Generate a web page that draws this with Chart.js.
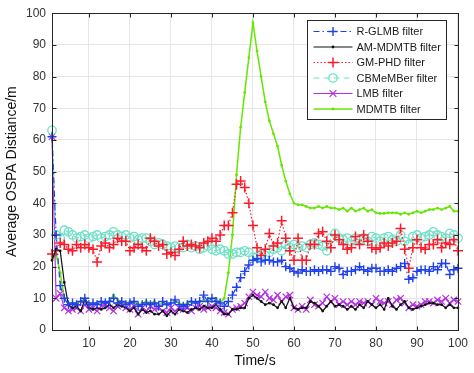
<!DOCTYPE html>
<html>
<head>
<meta charset="utf-8">
<script src="https://cdn.jsdelivr.net/npm/chart.js@4.4.1/dist/chart.umd.min.js"></script>
<style>
  html, body { margin: 0; padding: 0; background: #fff; }
  #wrap { width: 474px; height: 373px; }
</style>
</head>
<body>
<div id="wrap"><canvas id="ospaChart" width="474" height="373"></canvas></div>
<script>
// Datos (t = 1..100 s)
const times = Array.from({ length: 100 }, (_, i) => i + 1);
const xTickLabels = [10, 20, 30, 40, 50, 60, 70, 80, 90, 100];
const yTickLabels = [0, 10, 20, 30, 40, 50, 60, 70, 80, 90, 100];

const rglmb = [61, 30, 14, 10, 8, 8.5, 8, 9, 10, 8, 8.5, 8, 9, 8.5, 9, 10, 8.5, 9, 8, 8.5,
    9, 7.5, 8, 8.5, 8, 8.5, 7.5, 9, 8, 8.5, 9.5, 8, 7.5, 8, 9, 8.5, 9, 11, 9, 10,
    9, 8.5, 7.5, 9, 11, 13.5, 16.5, 18.5, 20.5, 22, 22.5, 21.5, 22, 22, 21.5, 21.5, 22, 20, 19.5, 18.5,
    18, 19, 18.5, 18.5, 19, 18.5, 19, 19, 18.5, 20, 19.5, 17.5, 18.5, 18.5, 19, 20, 19, 18.5, 19.5, 19.5,
    18.5, 18.5, 19, 18.5, 19.5, 20, 21, 16, 16.5, 18.5, 19, 19, 18.5, 20, 19, 21, 21, 17.5, 19, 19.5];

const amMdmtb = [22, 25.5, 25, 15, 8, 7, 7.5, 6, 9.5, 7, 6.5, 7, 6.5, 7, 8, 7, 8, 7.5, 7, 6,
    7, 5, 6.5, 5.5, 6, 5, 5, 6, 4.5, 6, 5, 6.5, 6, 5.5, 6.5, 7, 6.5, 7.5, 7, 7,
    8, 6.5, 5, 5, 6.5, 6.5, 7, 7, 10, 11, 10, 9, 8, 8.5, 8, 7, 9, 7, 10, 7,
    6.5, 7, 7, 9, 8.5, 7.5, 6, 7.5, 9, 7.5, 8, 7.5, 6.5, 7.5, 6.5, 8, 7, 9, 8, 7,
    8, 6.5, 10, 7.5, 6.5, 8, 9, 7, 6.5, 7, 7.5, 8, 8.5, 8.5, 8, 8, 7, 8, 7, 7];

const gmPhd = [24, 25, 27.5, 27, 25.5, 25, 27, 26, 27, 26, 25.5, 21.5, 26.5, 27.5, 26, 27, 29, 28, 28, 25,
    26, 27, 26, 25, 29, 28, 26.5, 27, 24, 24.5, 23.5, 25.5, 28, 26.5, 27, 26.5, 26, 27.5, 28, 29,
    28, 30, 33, 33, 37, 46, 47, 45, 40, 33, 26, 23.5, 25.5, 30.5, 26.5, 27.5, 34.5, 29, 25, 22,
    29, 22, 22, 27, 27, 30.5, 31, 28, 26, 30, 28.5, 27, 25.5, 26, 29.5, 27, 30, 28, 26, 25.5,
    26, 27.5, 26.5, 27.5, 28, 32, 25.5, 19.5, 26, 28.5, 26, 25.5, 27, 27, 28.5, 26, 27.5, 27, 28.5, 25];

const cbmember = [63, 30, 29, 31.5, 31, 30, 29, 29.5, 30, 29, 29.5, 30, 29, 29.5, 30, 31, 30, 29.5, 30, 29,
    29.5, 28.5, 29, 29, 28, 27, 27.5, 27, 26.5, 26, 26.5, 26, 26, 27, 26, 26.5, 25.5, 26, 26.5, 25.5,
    25, 25.5, 25, 24, 24, 24.5, 24.5, 25, 24.5, 23, 23, 24, 23.5, 24.5, 25.5, 26, 25, 27, 26, 27,
    26, 26.5, 26, 27, 27.5, 27, 26.5, 25, 29, 30.5, 29, 28.5, 29, 28, 29, 28.5, 29, 28, 29.5, 29,
    28, 29, 29.5, 28.5, 28, 30, 28, 27, 29.5, 30, 29, 29.5, 30, 31, 30, 29.5, 29, 30.5, 30, 29];

const lmb = [61, 10, 11.5, 7, 6, 6.5, 7, 6, 8, 6.5, 7, 6, 7.5, 8, 7, 6, 7.5, 8, 7, 6.5,
    7.5, 5, 7, 6, 7.5, 6.5, 7, 6, 5.5, 7, 6, 7, 6.5, 7, 6, 7, 7.5, 6.5, 7, 7.5,
    7, 6, 5.5, 5, 6.5, 7, 7.5, 8.5, 10.5, 12, 11, 10.5, 12, 10, 9.5, 11, 9, 10.5, 11, 7,
    6.5, 7.5, 6.5, 9.5, 8, 7.5, 8.5, 10.5, 9, 10, 8, 9, 8, 9, 8, 9, 8.5, 9, 8, 10,
    9, 8.5, 9, 8, 9.5, 10, 8.5, 7, 8, 7.5, 8, 9, 9, 8.5, 9.5, 9, 10, 8.5, 9.5, 9];

const mdmtb = [22, 24, 18, 10, 8, 8.5, 8.5, 9, 10, 8, 8.5, 8.5, 9, 8.5, 9, 11, 9.5, 9, 8.5, 9,
    9, 8, 8.5, 9, 8.5, 9, 8, 8.5, 8, 8.5, 9, 8.5, 8, 8.5, 9, 8.5, 9, 9.5, 9, 10,
    10, 8.5, 10, 18, 30, 49, 64, 75, 86, 97, 88, 80, 72, 66, 62, 58, 52, 47, 43, 40,
    39.5, 39.5, 39, 38.5, 38.5, 39, 38.5, 39, 38.5, 38.5, 38, 38.5, 37.5, 38.5, 37.5, 38, 38.5, 37.5, 38, 37,
    36.8, 36.8, 37, 37, 37, 36.5, 37, 36.5, 37, 37.5, 37, 37.5, 38, 38, 38.5, 38, 38.5, 39, 37.5, 37.5];

const FONT = "'Liberation Sans', Arial, sans-serif";

// Marco con marcas hacia dentro y leyenda dentro del gráfico (estilo MATLAB)
const boxLegend = {
    id: 'boxLegend',
    afterDraw(chart) {
        const ctx = chart.ctx;
        const area = chart.chartArea;
        const xs = chart.scales.x, ys = chart.scales.y;
        ctx.save();
        ctx.strokeStyle = '#262626';
        ctx.lineWidth = 1;
        ctx.setLineDash([]);
        const L = Math.round(area.left) + 0.5, T = Math.round(area.top) + 0.5;
        const R = Math.round(area.right) + 0.5, B = Math.round(area.bottom) + 0.5;
        ctx.strokeRect(L, T, R - L, B - T);

        // marcas de los ejes
        ctx.beginPath();
        xTickLabels.forEach(t => {
            const px = Math.round(xs.getPixelForValue(times.indexOf(t))) + 0.5;
            ctx.moveTo(px, B); ctx.lineTo(px, B - 4);
            ctx.moveTo(px, T); ctx.lineTo(px, T + 4);
        });
        yTickLabels.forEach(v => {
            const py = Math.round(ys.getPixelForValue(v)) + 0.5;
            ctx.moveTo(L, py); ctx.lineTo(L + 4, py);
            ctx.moveTo(R, py); ctx.lineTo(R - 4, py);
        });
        ctx.stroke();

        const x0 = 307.5, y0 = 20.5, w = 139, h = 99;
        ctx.fillStyle = '#fff';
        ctx.fillRect(x0, y0, w, h);
        ctx.strokeStyle = '#262626';
        ctx.strokeRect(x0, y0, w, h);

        chart.data.datasets.forEach((ds, i) => {
            const y = y0 + 11 + i * 15.5;
            ctx.strokeStyle = ds.borderColor;
            ctx.lineWidth = ds.borderWidth;
            ctx.setLineDash(ds.borderDash || []);
            ctx.beginPath();
            ctx.moveTo(x0 + 6, y);
            ctx.lineTo(x0 + 45, y);
            ctx.stroke();
            ctx.setLineDash([]);
            const cx = x0 + 25.5, r = ds.pointRadius;
            ctx.strokeStyle = ds.pointBorderColor;
            ctx.fillStyle = ds.pointBackgroundColor;
            ctx.lineWidth = ds.pointBorderWidth;
            ctx.beginPath();
            if (ds.pointStyle === 'cross') {
                ctx.moveTo(cx - r, y); ctx.lineTo(cx + r, y);
                ctx.moveTo(cx, y - r); ctx.lineTo(cx, y + r);
                ctx.stroke();
            } else if (ds.pointStyle === 'crossRot') {
                const d = r * 0.75;
                ctx.moveTo(cx - d, y - d); ctx.lineTo(cx + d, y + d);
                ctx.moveTo(cx - d, y + d); ctx.lineTo(cx + d, y - d);
                ctx.stroke();
            } else {
                ctx.arc(cx, y, r, 0, Math.PI * 2);
                if (ds.pointBackgroundColor !== 'transparent') ctx.fill();
                ctx.stroke();
            }
            ctx.fillStyle = '#1a1a1a';
            ctx.font = `11px ${FONT}`;
            ctx.textBaseline = 'middle';
            ctx.fillText(ds.label, x0 + 49, y + 0.5);
        });
        ctx.restore();
    }
};

const makeSet = (label, data, color, opts) => Object.assign({
    label: label,
    data: data,
    borderColor: color,
    backgroundColor: color,
    pointBorderColor: color,
    pointBackgroundColor: 'transparent',
    borderWidth: 1.2,
    pointBorderWidth: 1.2,
    tension: 0,
    fill: false
}, opts);

new Chart(document.querySelector('#ospaChart'), {
    type: 'line',
    data: {
        labels: times,
        datasets: [
            makeSet('R-GLMB filter', rglmb, '#2040f0',
                { borderDash: [6, 3, 1.5, 3], pointStyle: 'cross', pointRadius: 4.5, pointBorderWidth: 1.4 }),
            makeSet('AM-MDMTB filter', amMdmtb, '#111111',
                { pointStyle: 'circle', pointRadius: 0.8, pointBackgroundColor: '#111111' }),
            makeSet('GM-PHD filter', gmPhd, '#ff1a2a',
                { borderDash: [1.5, 2], pointStyle: 'cross', pointRadius: 5, pointBorderWidth: 1.5 }),
            makeSet('CBMeMBer filter', cbmember, '#70e0c8',
                { borderDash: [6, 4], pointStyle: 'circle', pointRadius: 4.2, pointBorderWidth: 1.3 }),
            makeSet('LMB filter', lmb, '#b530e0',
                { pointStyle: 'crossRot', pointRadius: 4.5, pointBorderWidth: 1.2 }),
            makeSet('MDMTB filter', mdmtb, '#66e600',
                { borderWidth: 1.5, pointStyle: 'circle', pointRadius: 0.8, pointBackgroundColor: '#66e600' })
        ]
    },
    options: {
        responsive: false,
        animation: false,
        layout: { padding: { left: 0, right: 15, top: 8, bottom: 0 } },
        plugins: {
            legend: { display: false },
            tooltip: { enabled: false }
        },
        scales: {
            x: {
                type: 'category',
                offset: false,
                afterFit: (scale) => { scale.height = 43; },
                grid: { color: '#e6e6e6', drawTicks: false },
                border: { display: false },
                ticks: {
                    autoSkip: false,
                    maxRotation: 0,
                    padding: 6,
                    color: '#333333',
                    font: { family: FONT, size: 12 },
                    callback: function (value) {
                        const t = this.getLabelForValue(value);
                        return xTickLabels.includes(t) ? String(t) : null;
                    }
                },
                title: {
                    display: true,
                    text: 'Time/s',
                    color: '#111111',
                    font: { family: FONT, size: 14 },
                    padding: { top: 2, bottom: 3 }
                }
            },
            y: {
                min: 0,
                max: 100,
                afterFit: (scale) => { scale.width = 52; },
                afterBuildTicks: (scale) => { scale.ticks = yTickLabels.map(v => ({ value: v })); },
                grid: { color: '#e6e6e6', drawTicks: false },
                border: { display: false },
                ticks: {
                    padding: 6,
                    color: '#333333',
                    font: { family: FONT, size: 12 }
                },
                title: {
                    display: true,
                    text: 'Average OSPA Distiance/m',
                    color: '#111111',
                    font: { family: FONT, size: 14 },
                    padding: { top: 4, bottom: 2 }
                }
            }
        }
    },
    plugins: [boxLegend]
});
</script>
</body>
</html>
